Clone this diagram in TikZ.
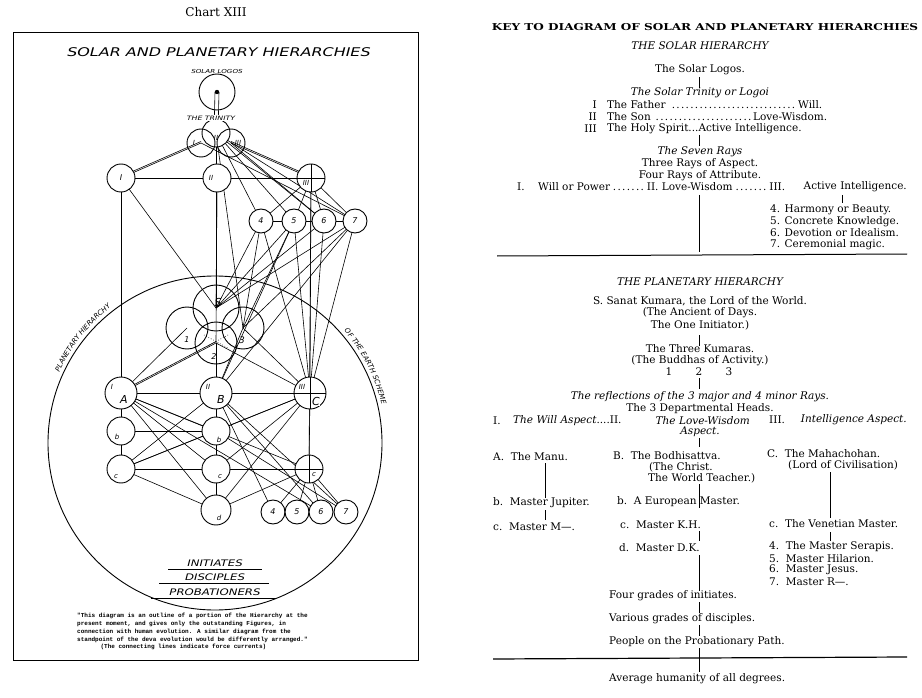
\documentclass[tikz,border=0pt]{standalone}
\usepackage{fontspec}
\usepackage{graphicx}
\setmainfont{DejaVu Serif}
\newfontfamily\monofnt{Liberation Mono}
\newfontfamily\handfnt{DejaVu Sans}
\usetikzlibrary{decorations.text}
\begin{document}
\begin{tikzpicture}[x=1pt,y=-1pt,
  circ/.style={circle,draw,line width=0.9pt,inner sep=0pt,fill=white},
  lab/.style={font=\handfnt\itshape\fontsize{7}{7}\selectfont},
  key/.style={font=\fontsize{10.5}{12}\selectfont,inner sep=0pt},
  keyi/.style={font=\itshape\fontsize{10.5}{12}\selectfont,inner sep=0pt},
  ln/.style={line width=0.6pt},
  vl/.style={line width=0.6pt},
  hand/.style={font=\handfnt\itshape\fontsize{7}{7}\selectfont,inner sep=0pt}]
\useasboundingbox[fill=white] (0,0) rectangle (922,698);
% ================= LEFT CHART =================
\node[font=\fontsize{12}{12}\selectfont\scshape\rmfamily] (chart) at (216,12) {Chart XIII};
\draw[line width=1pt] (13,33) rectangle (418,660);
\node[font=\handfnt\itshape\fontsize{12}{12}\selectfont] (title) at (219,52) {\scalebox{1.33}[1]{SOLAR AND PLANETARY HIERARCHIES}};
\node[hand,font=\handfnt\itshape\fontsize{5.5}{5.5}\selectfont] (sl) at (217,71) {\scalebox{1.3}[1]{SOLAR LOGOS}};
\node[circ,minimum size=36pt] (logos) at (217,92) {};
\fill (logos.center) circle (2.2pt);
% big circle
\draw[line width=0.9pt] (215,443) circle (167);
\coordinate (pT2) at (216,133); \coordinate (pT1) at (201,143); \coordinate (pT3) at (231,143);
\coordinate (pR1) at (121,178); \coordinate (pR2) at (217,178); \coordinate (pR3) at (311,178);
\coordinate (p4) at (261,221); \coordinate (p5) at (294,221); \coordinate (p6) at (324,221); \coordinate (p7) at (355,221);
\coordinate (pS) at (216,308); \coordinate (pK1) at (187,328); \coordinate (pK3) at (243,328); \coordinate (pK2) at (216,343);
\coordinate (pA) at (121,393); \coordinate (pB) at (216,393); \coordinate (pC) at (310,393);
\coordinate (pbl) at (121,431); \coordinate (pbm) at (216,431);
\coordinate (pcl) at (121,469); \coordinate (pcm) at (216,469); \coordinate (pcr) at (309,469);
\coordinate (pd) at (216,510);
\coordinate (q4) at (273,512); \coordinate (q5) at (297,512); \coordinate (q6) at (321,512); \coordinate (q7) at (346,512);
% connectors
\begin{scope}[ln]
\draw ([xshift=-2pt]pT2) -- ([xshift=-2pt]logos.center); \draw ([xshift=2pt]pT2) -- ([xshift=2pt]logos.center);
\draw (pT1) -- (pR1); \draw ([yshift=1.5pt]pT1) -- ([yshift=1.5pt]pR1);
\draw (pT3) -- (pR3); \draw ([yshift=1.5pt]pT3) -- ([yshift=1.5pt]pR3);
\draw (pT2) -- (pR2);
\draw (pR1) -- (pR3);
\draw (pT2) -- (p4); \draw (pT2) -- (p5); \draw (pT2) -- (p6); \draw (pT2) -- (p7);
\draw (pT1) -- (p7); \draw (pT3) -- (p6);
\draw (pR3) -- (p4); \draw (pR3) -- (p5); \draw (pR3) -- (p6); \draw (pR3) -- (p7);
\draw (p4) -- (p7);
\draw (pR1) -- (pA); \draw (pR1) -- (pS);
\draw (pR2) -- (pS); \draw (pR2) -- (pK2); \draw (pT2) -- (pK3); \draw (pT2) -- (pS);
\draw (pR3) -- (pC); \draw (pR3) -- (pcr);
\draw (p4) -- (pS); \draw (p4) -- (pK3); \draw (p5) -- (pS); \draw (p5) -- (pK3); \draw (p5) -- (pB);
\draw (p7) -- (pS); \draw (p7) -- (pK3); \draw (p6) -- (pS);
\draw (p4) -- (pC); \draw (p5) -- (pC); \draw (p6) -- (pC); \draw (p7) -- (pC);
\draw (p7) -- (pB);
\draw (pK1) -- (pA); \draw (pK2) -- (pA); \draw ([yshift=1.5pt]pK2) -- ([yshift=1.5pt]pA);
\draw (pK3) -- (pC); \draw (pK2) -- (pC); \draw (pK2) -- (pB); \draw (pK3) -- (pB);
\draw (pA) -- (pC);
\draw (pA) -- (pcl); \draw (pB) -- (pd); \draw (pC) -- (pcr);
\draw (pbl) -- (pbm); \draw (pcl) -- (pcr);
\draw (pA) -- (pbm); \draw (pA) -- (pcm); \draw (pA) -- (pd); \draw (pA) -- (pcr); \draw (pA) -- (q6);
\draw (pcl) -- (pB); \draw (pcl) -- (pC); \draw (pcl) -- (pbm); \draw (pcl) -- (pd);
\draw (pC) -- (pbm); \draw (pC) -- (pcm); \draw (pC) -- (pd);
\draw (pB) -- (q4); \draw (pB) -- (q6); \draw (pB) -- (q7); \draw (pbm) -- (q7);
\draw (pcr) -- (q4); \draw (pcr) -- (q5); \draw (pcr) -- (q6); \draw (pcr) -- (q7);
\draw (pcm) -- (pd); \draw (pd) -- (pcr);
\end{scope}
% circles
\node[circ,minimum size=28pt] (T2) at (pT2) {};
\node[circ,minimum size=28pt,fill=none] (T1) at (pT1) {};
\node[circ,minimum size=28pt,fill=none] (T3) at (pT3) {};
\node[hand,font=\handfnt\itshape\fontsize{6}{6}\selectfont,fill=white,inner sep=0.6pt] (tt) at (211,118) {\scalebox{1.3}[1]{THE TRINITY}};
\node[lab] at ([yshift=-5pt]pT2) {II};
\node[lab] at ([xshift=-7pt]pT1) {I};
\node[lab] at ([xshift=7pt]pT3) {III};
\node[circ,minimum size=28pt] (R1) at (pR1) {\handfnt\itshape\fontsize{8}{8}\selectfont I};
\node[circ,minimum size=28pt] (R2) at (pR2) {};
\node[lab] at ([xshift=-6pt]pR2) {II};
\node[circ,minimum size=28pt] (R3) at (pR3) {};
\draw[ln] (R3.north) -- (R3.south) (R3.west) -- (R3.east);
\node[lab,fill=white,inner sep=0.5pt] at ([xshift=-5pt,yshift=-5pt]pR3) {III};
\foreach \n/\t in {p4/4,p5/5,p6/6,p7/7} \node[circ,minimum size=24pt] (c\t) at (\n) {\handfnt\itshape\fontsize{8}{8}\selectfont\t};
\node[circ,minimum size=46pt,fill=none] (S) at (pS) {};
\node[circ,minimum size=42pt,fill=none] (K1) at (pK1) {};
\node[circ,minimum size=42pt,fill=none] (K3) at (pK3) {};
\node[circ,minimum size=42pt,fill=none] (K2) at (pK2) {};
\draw[dotted,ln] (204,335) -- (228,348) (228,335) -- (204,348);
\node[hand,font=\handfnt\itshape\fontsize{11}{11}\selectfont] at (218,302) {S};
\node[hand,font=\handfnt\itshape\fontsize{8}{8}\selectfont] at (187,340) {1};
\node[hand,font=\handfnt\itshape\fontsize{9}{9}\selectfont] at (242,340) {3};
\node[hand,font=\handfnt\itshape\fontsize{8}{8}\selectfont] at (214,357) {2};
\node[circ,minimum size=32pt] (A) at (pA) {};
\node[lab] at (112,387) {I}; \node[hand,font=\handfnt\itshape\fontsize{11}{11}\selectfont] at (124,399) {A};
\node[circ,minimum size=32pt] (B) at (pB) {};
\node[lab] at (208,387) {II}; \node[hand,font=\handfnt\itshape\fontsize{11}{11}\selectfont] at (221,399) {B};
\node[circ,minimum size=32pt] (C) at (pC) {};
\draw[ln] (C.north) -- (C.south) (C.west) -- (C.east);
\node[lab,fill=white,inner sep=0.5pt] at (302,387) {III}; \node[hand,font=\handfnt\itshape\fontsize{11}{11}\selectfont,fill=white,inner sep=0.5pt] at (316,401) {C};
\node[circ,minimum size=28pt] (bl) at (pbl) {}; \node[lab] at (117,437) {b};
\node[circ,minimum size=28pt] (bm) at (pbm) {}; \node[lab] at (219,440) {b};
\node[circ,minimum size=28pt] (cl) at (pcl) {}; \node[lab] at (116,477) {c};
\node[circ,minimum size=28pt] (cm) at (pcm) {}; \node[lab] at (220,477) {c};
\node[circ,minimum size=28pt] (cr) at (pcr) {};
\draw[ln] (cr.north) -- (cr.south) (cr.west) -- (cr.east);
\node[lab,fill=white,inner sep=0.5pt] at (314,475) {c};
\node[circ,minimum size=30pt] (d) at (pd) {}; \node[lab] at (219,518) {d};
\foreach \n/\t in {q4/4,q5/5,q6/6,q7/7} \node[circ,minimum size=24pt] (e\t) at (\n) {\handfnt\itshape\fontsize{8}{8}\selectfont\t};
% curved labels
\begin{scope}[shift={(215,443)},y=1pt]
\path[decorate,decoration={text along path,text align=center,
   text={|\handfnt\itshape\fontsize{7}{7}\selectfont|PLANETARY HIERARCHY}}]
   (165:171) arc[start angle=165,end angle=118,radius=171];
\path[decorate,decoration={text along path,text align=center,
   text={|\handfnt\itshape\fontsize{7}{7}\selectfont|OF THE EARTH SCHEME}}]
   (50:171) arc[start angle=50,end angle=4,radius=171];
\end{scope}
\node[hand,font=\handfnt\itshape\fontsize{9}{9}\selectfont] (ini) at (215,563) {\scalebox{1.3}[1]{INITIATES}};
\draw[line width=0.7pt] (168,569) -- (262,569);
\node[hand,font=\handfnt\itshape\fontsize{9}{9}\selectfont] (dis) at (215,577) {\scalebox{1.3}[1]{DISCIPLES}};
\draw[line width=0.7pt] (159,583) -- (269,583);
\node[hand,font=\handfnt\itshape\fontsize{9}{9}\selectfont] (pro) at (215,592) {\scalebox{1.3}[1]{PROBATIONERS}};
\draw[line width=0.7pt] (151,598) -- (276,598);
\node[font=\monofnt\bfseries\fontsize{6}{7.8}\selectfont,align=left,inner sep=0pt,anchor=north west] (foot) at (77,613)
{"This diagram is an outline of a portion of the Hierarchy at the\\
 present moment, and gives only the outstanding Figures, in\\
 connection with human evolution.  A similar diagram from the\\
 standpoint of the deva evolution would be differently arranged."\\
 \hspace*{3.9em}(The connecting lines indicate force currents)};
% ================= RIGHT KEY =================
\node[font=\bfseries\fontsize{9.5}{10}\selectfont,inner sep=0pt] (k0) at (705,27) {\scalebox{1.27}[1]{KEY TO DIAGRAM OF SOLAR AND PLANETARY HIERARCHIES}};
\node[keyi] (k1) at (700,46) {THE SOLAR HIERARCHY};
\node[key] (k2) at (700,70) {The Solar Logos.};
\draw[vl] (699,77) -- (699,88);
\node[keyi] (k3) at (700,93) {The Solar Trinity or Logoi};
\node[key,anchor=east] at (597,105) {I}; \node[key,anchor=west] (k4) at (607,105) {\makebox[215pt]{The Father \dotfill Will.}};
\node[key,anchor=east] at (597,117) {II}; \node[key,anchor=west] (k5) at (607,117) {\makebox[220pt]{The Son \dotfill Love-Wisdom.}};
\node[key,anchor=east] at (597,129) {III}; \node[key,anchor=west] (k6) at (607,129) {The Holy Spirit...Active Intelligence.};
\draw[vl] (699,135) -- (699,146);
\node[keyi] (k7) at (700,152) {The Seven Rays};
\node[key] (k8) at (700,164) {Three Rays of Aspect.};
\node[key] (k9) at (700,176) {Four Rays of Attribute.};
\node[key,anchor=west] (k10a) at (517,187) {I.};
\node[key,anchor=west] (k10) at (538,187) {\makebox[247pt]{Will or Power\dotfill II. Love-Wisdom\dotfill III.}};
\node[key,anchor=east] (k10c) at (907,187) {Active Intelligence.};
\draw[vl] (699,195) -- (699,252);
\draw[vl] (842,195) -- (842,203);
\node[key,anchor=west] at (770,210) {4. Harmony or Beauty.};
\node[key,anchor=west] at (770,222) {5. Concrete Knowledge.};
\node[key,anchor=west] at (770,233) {6. Devotion or Idealism.};
\node[key,anchor=west] at (770,245) {7. Ceremonial magic.};
\draw[line width=1pt] (497,256) -- (907,254);
\node[keyi] (k11) at (700,282) {THE PLANETARY HIERARCHY};
\node[key] (k12) at (700,301) {S. Sanat Kumara, the Lord of the World.};
\node[key] (k13) at (700,313) {(The Ancient of Days.};
\node[key] (k14) at (700,325) {The One Initiator.)};
\draw[vl] (699,335) -- (699,346);
\node[key] (k15) at (700,349) {The Three Kumaras.};
\node[key] (k16) at (700,361) {(The Buddhas of Activity.)};
\node[key] (k17a) at (669,372) {1}; \node[key] (k17b) at (699,372) {2}; \node[key] (k17c) at (729,372) {3};
\draw[vl] (699,378) -- (699,389);
\node[keyi] (k18) at (700,397) {The reflections of the 3 major and 4 minor Rays.};
\node[key] (k19) at (700,409) {The 3 Departmental Heads.};
\node[key,anchor=west] at (493,421) {I.};
\node[key,anchor=west] at (513,421) {{\itshape The Will Aspect}....II.};
\node[keyi,anchor=east] at (750,421) {The Love-Wisdom};
\node[keyi] at (700,432) {Aspect.};
\node[key,anchor=west] at (769,420) {III.};
\node[keyi,anchor=east] at (907,420) {Intelligence Aspect.};
\draw[vl] (699,438) -- (699,447);
\node[key,anchor=west] (mA) at (493,457) {A.\ \ The Manu.};
\node[key,anchor=west] (mB) at (613,456) {B.\ \ The Bodhisattva.};
\node[key,anchor=west] at (649,467) {(The Christ.};
\node[key,anchor=west] at (648,478) {The World Teacher.)};
\node[key,anchor=west] (mC) at (767,454) {C.\ \ The Mahachohan.};
\node[key,anchor=west] at (788,465) {(Lord of Civilisation)};
\draw[vl] (545,463) -- (545,498);
\draw[vl] (699,484) -- (699,508);
\draw[vl] (830,472) -- (830,518);
\node[key,anchor=west] at (493,503) {b.\ \ Master Jupiter.};
\node[key,anchor=west] at (617,502) {b.\ \ A European Master.};
\draw[vl] (545,510) -- (545,520);
\node[key,anchor=west] at (493,527) {c.\ \ Master M---.};
\node[key,anchor=west] at (620,525) {c.\ \ Master K.H.};
\node[key,anchor=west] at (769,524) {c.\ \ The Venetian Master.};
\draw[vl] (699,531) -- (699,541);
\draw[vl] (830,532) -- (830,541);
\node[key,anchor=west] at (619,548) {d.\ \ Master D.K.};
\node[key,anchor=west] at (769,547) {4.\ \ The Master Serapis.};
\node[key,anchor=west] at (769,559) {5.\ \ Master Hilarion.};
\node[key,anchor=west] at (769,570) {6.\ \ Master Jesus.};
\node[key,anchor=west] at (769,582) {7.\ \ Master R---.};
\draw[vl] (699,555) -- (699,591);
\node[key,anchor=west] at (609,596) {Four grades of initiates.};
\draw[vl] (699,602) -- (699,613);
\node[key,anchor=west] at (609,619) {Various grades of disciples.};
\draw[vl] (699,625) -- (699,636);
\node[key,anchor=west] at (609,642) {People on the Probationary Path.};
\draw[vl] (699,648) -- (699,672);
\draw[line width=1.2pt] (493,659) -- (907,657);
\node[key,anchor=west] at (609,679) {Average humanity of all degrees.};
\end{tikzpicture}
\end{document}
